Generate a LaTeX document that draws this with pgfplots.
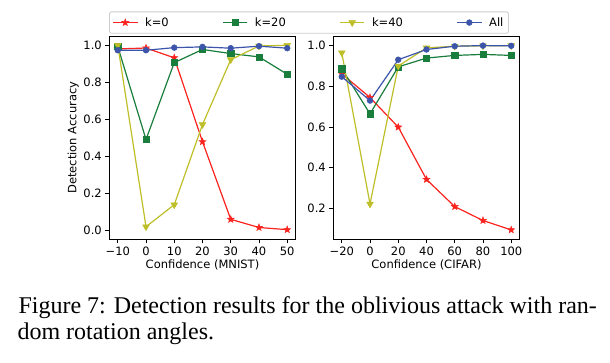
\documentclass[border=0pt]{standalone}
\usepackage{fontspec}
\setmainfont{DejaVu Sans}
\newfontfamily\capfont{Liberation Serif}
\usepackage{pgfplots}
\pgfplotsset{compat=1.18}
\usetikzlibrary{plotmarks}

\definecolor{cred}{RGB}{250,35,30}
\definecolor{cgreen}{RGB}{25,125,60}
\definecolor{colive}{RGB}{190,190,40}
\definecolor{cblue}{RGB}{60,85,170}
\definecolor{legframe}{RGB}{204,204,204}

\pgfdeclareplotmark{fstar}{%
  \pgfpathmoveto{\pgfpointpolar{90}{\pgfplotmarksize}}%
  \pgfpathlineto{\pgfpointpolar{126}{0.42\pgfplotmarksize}}%
  \pgfpathlineto{\pgfpointpolar{162}{\pgfplotmarksize}}%
  \pgfpathlineto{\pgfpointpolar{198}{0.42\pgfplotmarksize}}%
  \pgfpathlineto{\pgfpointpolar{234}{\pgfplotmarksize}}%
  \pgfpathlineto{\pgfpointpolar{270}{0.42\pgfplotmarksize}}%
  \pgfpathlineto{\pgfpointpolar{306}{\pgfplotmarksize}}%
  \pgfpathlineto{\pgfpointpolar{342}{0.42\pgfplotmarksize}}%
  \pgfpathlineto{\pgfpointpolar{18}{\pgfplotmarksize}}%
  \pgfpathlineto{\pgfpointpolar{54}{0.42\pgfplotmarksize}}%
  \pgfpathclose\pgfusepathqfillstroke}

\newcommand{\axfont}{\fontsize{11.5}{13}\selectfont}

\pgfplotsset{
  mystyle/.style={
    scale only axis, width=186.4pt, height=203.3pt,
    axis line style={line width=0.8pt},
    tick align=outside, major tick length=4pt,
    every tick/.style={black, line width=0.8pt},
    xtick pos=bottom, ytick pos=left,
    ticklabel style={font=\axfont},
    /pgf/number format/assume math mode=true,
    every axis x label/.style={at={(axis description cs:0.5,-0.1426)},anchor=base,font=\axfont},
    legend image code/.code={\draw[mark repeat=2,mark phase=2] plot coordinates {(0pt,0pt)(12.25pt,0pt)(24.5pt,0pt)};},
  },
  sred/.style={color=cred, line width=1.2pt, mark=fstar, mark size=3.6pt, mark options={solid,line width=0.5pt}},
  sgreen/.style={color=cgreen, line width=1.2pt, mark=square*, mark size=3.1pt, mark options={solid,line width=0.5pt}},
  solive/.style={color=colive, line width=1.2pt, mark=triangle*, mark size=3.9pt, mark options={solid,line width=0.5pt,rotate=180}},
  sblue/.style={color=cblue, line width=1.2pt, mark=*, mark size=2.9pt, mark options={solid,line width=0.5pt}},
}

\begin{document}
\begin{tikzpicture}
\path[use as bounding box] (0pt,0pt) rectangle (610pt,-363pt);

\begin{axis}[mystyle,
  at={(109.3pt,-239.3pt)}, anchor=south west,
  xmin=-13, xmax=53, ymin=-0.05, ymax=1.05,
  xtick={-10,0,10,20,30,40,50},
  xticklabels={−10,0,10,20,30,40,50},
  ytick={0,0.2,0.4,0.6,0.8,1.0},
  yticklabels={0.0,0.2,0.4,0.6,0.8,1.0},
  xlabel={Confidence (MNIST)},
  ylabel={Detection Accuracy},
  every axis y label/.style={at={(axis description cs:-0.1765,0.5)},rotate=90,anchor=base,font=\axfont},
  legend columns=4,
  legend cell align=left,
  legend style={at={(axis description cs:0,1)}, anchor=south west, yshift=2.3pt, xshift=-0.3pt,
    draw=legframe, rounded corners=2pt, fill=white, line width=0.8pt,
    inner xsep=3pt, inner ysep=3.6pt,
    font=\axfont,
    /tikz/every odd column/.append style={column sep=5pt},
    /tikz/every even column/.append style={column sep=51.5pt}},
]
\addplot[sred] coordinates {(-10,0.980) (0,0.985) (10,0.932) (20,0.478) (30,0.058) (40,0.014) (50,0.002)};
\addlegendentry{k=0}
\addplot[sgreen] coordinates {(-10,0.993) (0,0.490) (10,0.906) (20,0.977) (30,0.955) (40,0.937) (50,0.843)};
\addlegendentry{k=20}
\addplot[solive] coordinates {(-10,1.000) (0,0.018) (10,0.137) (20,0.571) (30,0.922) (40,0.996) (50,1.000)};
\addlegendentry{k=40}
\addplot[sblue] coordinates {(-10,0.973) (0,0.973) (10,0.987) (20,0.991) (30,0.984) (40,0.995) (50,0.984)};
\addlegendentry{All}
\end{axis}

\begin{axis}[mystyle,
  at={(333.3pt,-239.3pt)}, anchor=south west,
  xmin=-26, xmax=106, ymin=0.05, ymax=1.045,
  xtick={-20,0,20,40,60,80,100},
  xticklabels={−20,0,20,40,60,80,100},
  ytick={0.2,0.4,0.6,0.8,1.0},
  yticklabels={0.2,0.4,0.6,0.8,1.0},
  xlabel={Confidence (CIFAR)},
]
\addplot[sred] coordinates {(-20,0.860) (0,0.744) (20,0.599) (40,0.343) (60,0.210) (80,0.142) (100,0.096)};
\addplot[sgreen] coordinates {(-20,0.885) (0,0.664) (20,0.894) (40,0.937) (60,0.950) (80,0.955) (100,0.950)};
\addplot[solive] coordinates {(-20,0.963) (0,0.223) (20,0.898) (40,0.987) (60,0.995) (80,0.997) (100,0.998)};
\addplot[sblue] coordinates {(-20,0.846) (0,0.729) (20,0.929) (40,0.979) (60,0.995) (80,0.998) (100,0.997)};
\end{axis}

\node[anchor=base west, inner sep=0pt] at (18.3pt,-313.3pt)
  {\capfont\fontsize{24}{26}\selectfont\makebox[578.4pt][s]{Figure 7: Detection results for the oblivious attack with ran-}};
\node[anchor=base west, inner sep=0pt] at (17.3pt,-339.3pt)
  {\capfont\fontsize{24}{26}\selectfont dom rotation angles.};
\end{tikzpicture}
\end{document}
